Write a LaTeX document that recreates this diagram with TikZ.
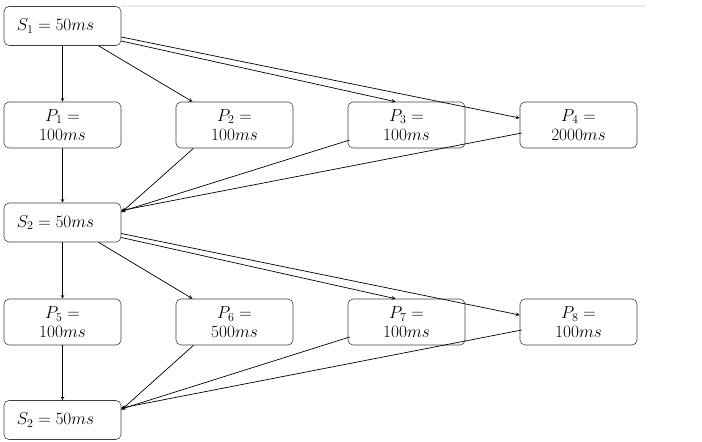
\documentclass[tikz,border=0pt]{standalone}
\usetikzlibrary{calc}
\begin{document}
\begin{tikzpicture}[x=1pt,y=-1pt,
  box/.style={draw=black!75,line width=0.6pt,rounded corners=5pt,minimum width=117pt,align=center,font=\fontsize{17}{19}\selectfont,inner sep=1pt},
  sbox/.style={box,minimum height=39pt},
  pbox/.style={box,minimum height=46pt},
  arr/.style={->,>=stealth,line width=0.7pt}]
\useasboundingbox (0,0) rectangle (702,442);
\draw[black!8,line width=1.5pt] (121,6) -- (645,6);
\node[sbox] (S1) at (62.5,26) {$S_1 = 50ms$\hspace{14pt}};
\node[pbox] (P1) at (62.5,125) {$P_1 =$\hspace{8pt}\\$100ms$\hspace{14pt}};
\node[pbox] (P2) at (234.5,125) {$P_2 =$\hspace{8pt}\\$100ms$\hspace{14pt}};
\node[pbox] (P3) at (406.5,125) {$P_3 =$\hspace{8pt}\\$100ms$\hspace{14pt}};
\node[pbox] (P4) at (578.5,125) {$P_4 =$\hspace{8pt}\\$2000ms$\hspace{14pt}};
\node[sbox] (S2) at (62.5,222.5) {$S_2 = 50ms$\hspace{14pt}};
\node[pbox] (P5) at (62.5,322) {$P_5 =$\hspace{8pt}\\$100ms$\hspace{14pt}};
\node[pbox] (P6) at (234.5,322) {$P_6 =$\hspace{8pt}\\$500ms$\hspace{14pt}};
\node[pbox] (P7) at (406.5,322) {$P_7 =$\hspace{8pt}\\$100ms$\hspace{14pt}};
\node[pbox] (P8) at (578.5,322) {$P_8 =$\hspace{8pt}\\$100ms$\hspace{14pt}};
\node[sbox] (S3) at (62.5,420) {$S_2 = 50ms$\hspace{14pt}};
\foreach \s/\pa/\pb/\pc/\pd/\t in {S1/P1/P2/P3/P4/S2, S2/P5/P6/P7/P8/S3}{
  \draw[arr] (\s.south) -- (\pa.north);
  \draw[arr] ($(\s.south)+(36,0)$) -- ($(\pb.north)+(-42,0)$);
  \draw[arr] ($(\s.east)+(0,15)$) -- ($(\pc.north)+(-11,0)$);
  \draw[arr] ($(\s.east)+(0,11)$) -- ($(\pd.west)+(0,-7)$);
  \draw[arr] (\pa.south) -- (\t.north);
  \draw[arr] ($(\pb.south)+(-41,0)$) -- ($(\t.east)+(0,-10)$);
  \draw[arr] ($(\pc.west)+(2,15)$) -- ($(\t.east)+(0,-11)$);
  \draw[arr] ($(\pd.west)+(2,8)$) -- ($(\t.east)+(0,-12)$);
}
\end{tikzpicture}
\end{document}
